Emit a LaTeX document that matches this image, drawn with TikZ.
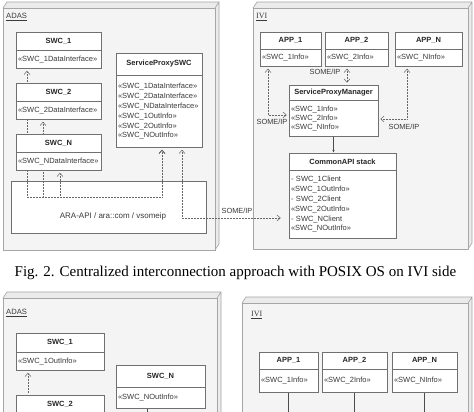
\documentclass[tikz,border=0pt]{standalone}
\usepackage{fontspec}
\setmainfont{Liberation Serif}
\setsansfont{Liberation Sans}
\usetikzlibrary{arrows.meta,positioning}
\pgfdeclarelayer{background}
\pgfdeclarelayer{links}
\pgfsetlayers{background,links,main}
\definecolor{framefill}{HTML}{F5F4F4}
\definecolor{frameside}{HTML}{ECEBEB}
\definecolor{framedraw}{HTML}{A6A6A6}
\definecolor{boxdraw}{HTML}{707070}
\definecolor{textgray}{HTML}{3A3A3A}
\begin{document}
\begin{tikzpicture}
                [
                x=1pt, y=-1pt,
                >={Straight Barb[length=3.5pt,width=6pt]},
                frame/.style={fill=framefill,draw=framedraw,line width=0.6pt},
                depth/.style={fill=frameside,draw=framedraw,line width=0.6pt},
                head/.style={draw=boxdraw,fill=white,line width=0.5pt,inner sep=0pt,font=\sffamily\bfseries\fontsize{7.5}{9}\selectfont,text=black!85},
                body/.style={draw=boxdraw,fill=white,line width=0.5pt,inner xsep=2pt,inner ysep=0pt,align=left,font=\sffamily\fontsize{7.5}{9.8}\selectfont,text=textgray},
                title/.style={inner sep=0pt,anchor=west,font=\sffamily\fontsize{7.6}{9}\selectfont,text=textgray},
                lbl/.style={inner sep=0pt,font=\sffamily\fontsize{7.4}{9}\selectfont,text=textgray},
                dep/.style={densely dotted,draw=black!60,line width=0.5pt,shorten <=2pt,shorten >=2pt},
                flow/.style={draw=black!70,line width=0.5pt,-{Latex[length=3pt,width=2.5pt]}},
                plain/.style={draw=black!70,line width=0.5pt}
                ]
            \useasboundingbox (0,0) rectangle (474,412);
            \begin{pgfonlayer}{background}
            \fill[white] (0,0) rectangle (474,412);
            \filldraw[depth] (3,8) -- (7,2) -- (219,2) -- (219,244) -- (215,250) -- cycle (215,8) -- (219,2);
            \filldraw[frame] (3,8) rectangle (215,250);
            \filldraw[depth] (253,8) -- (257,2) -- (472,2) -- (472,243) -- (468,249) -- cycle (468,8) -- (472,2);
            \filldraw[frame] (253,8) rectangle (468,249);
            \filldraw[depth] (3,298) -- (7,292) -- (221,292) -- (221,440) -- (217,446) -- cycle (217,298) -- (221,292);
            \filldraw[frame] (3,298) rectangle (217,446);
            \filldraw[depth] (242,303) -- (246,297) -- (472,297) -- (472,440) -- (468,446) -- cycle (468,303) -- (472,297);
            \filldraw[frame] (242,303) rectangle (468,446);
            \node[draw=boxdraw,fill=white,line width=0.5pt,minimum width=195pt,minimum height=52pt,inner sep=0pt] (ara) at (108.5,207) {};
            \end{pgfonlayer}
            \node[lbl,font=\sffamily\fontsize{8}{9}\selectfont] (aratext) at (113,216) {ARA-API / ara::com / vsomeip};
            \node[title] (adas) at (6,17) {\underline{ADAS}};
            \node[head,minimum width=85pt,minimum height=18pt] (swc1) at (58.5,41) {SWC\_1};
            \node[body,below=0pt of swc1,text width=81pt,minimum height=18pt] (swc1b) {«SWC\_1DataInterface»};
            \node[head,minimum width=85pt,minimum height=18pt] (swc2) at (58.5,92) {SWC\_2};
            \node[body,below=0pt of swc2,text width=81pt,minimum height=18pt] (swc2b) {«SWC\_2DataInterface»};
            \node[head,minimum width=85pt,minimum height=18pt] (swcN) at (58.5,143) {SWC\_N};
            \node[body,below=0pt of swcN,text width=81pt,minimum height=18pt] (swcNb) {«SWC\_NDataInterface»};
            \node[head,minimum width=86pt,minimum height=22pt] (sps) at (159,64) {ServiceProxySWC};
            \node[body,below=0pt of sps,text width=82pt,minimum height=72pt] (spsb) {«SWC\_1DataInterface»\\«SWC\_2DataInterface»\\«SWC\_NDataInterface»\\«SWC\_1OutInfo»\\«SWC\_2OutInfo»\\«SWC\_NOutInfo»};
            \node[title,font=\rmfamily\fontsize{8}{9}\selectfont] (ivi) at (256,17) {\underline{IVI}};
            \node[head,minimum width=61pt,minimum height=17pt] (app1) at (290.5,40.5) {APP\_1};
            \node[body,below=0pt of app1,text width=57pt,minimum height=17pt] (app1b) {«SWC\_1Info»};
            \node[head,minimum width=63pt,minimum height=17pt] (app2) at (356.5,40.5) {APP\_2};
            \node[body,below=0pt of app2,text width=59pt,minimum height=17pt] (app2b) {«SWC\_2Info»};
            \node[head,minimum width=67pt,minimum height=17pt] (appN) at (428.5,40.5) {APP\_N};
            \node[body,below=0pt of appN,text width=63pt,minimum height=17pt] (appNb) {«SWC\_NInfo»};
            \node[head,minimum width=89pt,minimum height=15pt] (spm) at (333.5,92.5) {ServiceProxyManager};
            \node[body,below=0pt of spm,text width=85pt,minimum height=36pt,font=\sffamily\fontsize{7.5}{9}\selectfont] (spmb) {«SWC\_1Info»\\«SWC\_2Info»\\«SWC\_NInfo»};
            \node[head,minimum width=107pt,minimum height=17pt] (capi) at (342.5,161.5) {CommonAPI stack};
            \node[body,below=0pt of capi,text width=103pt,minimum height=68pt] (capib) {- SWC\_1Client\\«SWC\_1OutInfo»\\- SWC\_2Client\\«SWC\_2OutInfo»\\- SWC\_NClient\\«SWC\_NOutInfo»};
            \coordinate (p1) at (162,197);
            \coordinate (d1) at (27,197);
            \coordinate (d2) at (43,197);
            \coordinate (d3) at (60,197);
            \coordinate (p2) at (182,218);
            \coordinate (q1) at (268,115);
            \coordinate (q2) at (347,75);
            \coordinate (q3) at (407,119);
            \begin{pgfonlayer}{links}
            \draw[dep,<->] (p1 |- spsb.south) -- (p1) -- (d1) -- (d1 |- swc1b.south);
            \draw[dep,<->] (p1 |- spsb.south) -- (p1) -- (d2) -- (d2 |- swc2b.south);
            \draw[dep,<->] (p1 |- spsb.south) -- (p1) -- (d3) -- (d3 |- swcNb.south);
            \draw[dep,<->,shorten >=8pt] (p2 |- spsb.south) |- (capib.west |- p2);
            \draw[dep,<->] (q1 |- app1b.south) |- (spmb.west |- q1);
            \draw[dep,<->] (q2 |- app2b.south) -- (q2 |- spm.north);
            \draw[dep,<->] (q3 |- appNb.south) |- (spmb.east |- q3);
            \end{pgfonlayer}
            \draw[flow] (spmb.south) -- (spmb.south |- capi.north);
            \node[lbl] (someip1) at (237,211) {SOME/IP};
            \node[lbl] (someip2) at (272,122) {SOME/IP};
            \node[lbl] (someip3) at (325,72) {SOME/IP};
            \node[lbl] (someip4) at (404,127) {SOME/IP};
            \node[font=\rmfamily\fontsize{15}{18}\selectfont,inner sep=0pt] (caption) at (235.5,273) {Fig. 2. Centralized interconnection approach with POSIX OS on IVI side};
            \node[title] (adas2) at (6,313) {\underline{ADAS}};
            \node[head,minimum width=88pt,minimum height=19pt] (bswc1) at (60,342.5) {SWC\_1};
            \node[body,below=0pt of bswc1,text width=84pt,minimum height=18pt] (bswc1b) {«SWC\_1OutInfo»};
            \node[head,minimum width=88pt,minimum height=19pt] (bswc2) at (60,404.5) {SWC\_2};
            \node[head,minimum width=89pt,minimum height=22pt] (bswcN) at (160.5,376) {SWC\_N};
            \node[body,below=0pt of bswcN,text width=85pt,minimum height=21pt] (bswcNb) {«SWC\_NOutInfo»};
            \node[title,font=\rmfamily\fontsize{8}{9}\selectfont] (ivi2) at (251,315) {\underline{IVI}};
            \node[head,minimum width=59pt,minimum height=17pt] (bapp1) at (288.5,360.5) {APP\_1};
            \node[body,below=0pt of bapp1,text width=55pt,minimum height=23pt] (bapp1b) {«SWC\_1Info»};
            \node[head,minimum width=65pt,minimum height=17pt] (bapp2) at (354.5,360.5) {APP\_2};
            \node[body,below=0pt of bapp2,text width=61pt,minimum height=23pt] (bapp2b) {«SWC\_2Info»};
            \node[head,minimum width=65pt,minimum height=17pt] (bappN) at (424.5,360.5) {APP\_N};
            \node[body,below=0pt of bappN,text width=61pt,minimum height=23pt] (bappNb) {«SWC\_NInfo»};
            \coordinate (r1) at (147,0);
            \coordinate (cut) at (0,430);
            \begin{pgfonlayer}{links}
            \draw[dep,->] ([xshift=-32pt]bswc2.north) -- ([xshift=-32pt]bswc1b.south);
            \end{pgfonlayer}
            \draw[plain] (r1 |- bswcNb.south) -- (r1 |- cut);
            \draw[plain] (bapp1b.south) -- (bapp1b.south |- cut);
            \draw[plain] (bapp2b.south) -- (bapp2b.south |- cut);
            \draw[plain] (bappNb.south) -- (bappNb.south |- cut);
            \end{tikzpicture}
\end{document}
